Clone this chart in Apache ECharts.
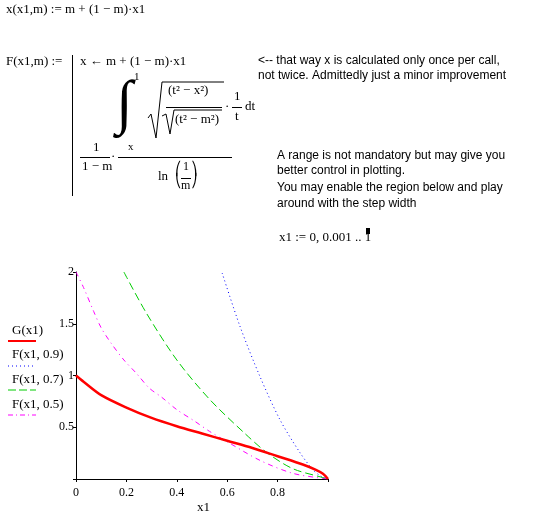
<!DOCTYPE html>
<html><head><meta charset="utf-8">
<script src="https://cdn.jsdelivr.net/npm/echarts@6/dist/echarts.min.js"></script>
<style>html,body{margin:0;background:#fff}#c{width:555px;height:523px}</style>
</head><body><div id="c"></div>
<script>
var box = echarts.init(document.getElementById('c'));

// values: [x1, value]
var gData = [[0,1],[0.03,0.94],[0.1,0.81],[0.2,0.69],[0.3,0.59],[0.4,0.51],[0.5,0.44],[0.6,0.37],[0.7,0.30],[0.8,0.22],[0.9,0.14],[0.95,0.09],[0.98,0.05],[1,0]];
var f09 = [[0.58,1.99],[0.65,1.48],[0.73,0.99],[0.81,0.57],[0.89,0.25],[0.94,0.09],[0.97,0.03],[1,0]];
var f07 = [[0.19,2],[0.28,1.6],[0.4,1.15],[0.53,0.77],[0.67,0.44],[0.76,0.25],[0.86,0.10],[0.97,0.02],[1,0]];
var f05 = [[0,2],[0.03,1.85],[0.07,1.62],[0.10,1.46],[0.14,1.31],[0.19,1.15],[0.24,1.02],[0.29,0.88],[0.34,0.79],[0.40,0.67],[0.47,0.56],[0.53,0.46],[0.6,0.36],[0.73,0.18],[0.86,0.055],[0.98,0.005],[1,0]];
var xTicks = [0, 0.2, 0.4, 0.6, 0.8];
var yTicks = [0.5, 1, 1.5, 2];

var serif = 'Liberation Serif', sans = 'Liberation Sans';
function t(x, y, s, f, size) {
    return {type: 'text', left: x, top: y, style: {text: s, font: (size || 13) + 'px "' + (f || serif) + '"', fill: '#000'}};
}
function ln(x1, y1, x2, y2, color, dash, w) {
    return {type: 'line', shape: {x1: x1, y1: y1, x2: x2, y2: y2}, style: {stroke: color || '#000', lineWidth: w || 1, lineDash: dash || null}};
}

var graphic = [
    t(6, 3, 'x(x1,m) := m + (1 − m)·x1'),
    t(6, 55, 'F(x1,m) :='),
    ln(72.5, 55, 72.5, 196),
    t(80, 55, 'x ← m + (1 − m)·x1'),
    t(93, 141, '1'), ln(80, 157.5, 110, 157.5), t(82, 160, '1 − m'), t(111, 150, '·'),
    ln(118, 157.5, 232, 157.5),
    {type: 'text', left: 116, top: 76, style: {text: '∫', font: '60px "' + serif + '"', fill: '#000'}},
    t(134, 72, '1', serif, 11), t(128, 142, 'x', serif, 11),
    // radical
    {type: 'polyline', shape: {points: [[148, 118], [151, 114], [156, 138], [162, 82], [224, 82]]}, style: {stroke: '#000', fill: null}},
    t(168, 84, '(t² − x²)'),
    {type: 'polyline', shape: {points: [[162, 116], [166, 114], [170, 134], [174, 110], [222, 110]]}, style: {stroke: '#000', fill: null}},
    ln(166, 107.5, 222, 107.5),
    t(175, 113, '(t² − m²)'),
    t(225, 100, '·'), t(234, 90, '1'), ln(232, 107.5, 242, 107.5), t(235, 110, 't'), t(245, 100, 'dt'),
    t(158, 170, 'ln'), t(175, 163, '⎛'), t(175, 175, '⎝'), t(183, 161, '1', serif, 12), ln(181, 178.5, 191, 178.5), t(181, 180, 'm', serif, 12),
    t(191, 163, '⎞'), t(191, 175, '⎠'),
    t(258, 55, '<-- that way x is calculated only once per call,', sans, 12),
    t(258, 70, 'not twice. Admittedly just a minor improvement', sans, 12),
    t(277, 150, 'A range is not mandatory but may give you', sans, 12),
    t(277, 165, 'better control in plotting.', sans, 12),
    t(277, 182, 'You may enable the region below and play', sans, 12),
    t(277, 198, 'around with the step width', sans, 12),
    t(279, 231, 'x1 := 0, 0.001 .. 1'),
    {type: 'rect', shape: {x: 366, y: 228, width: 4, height: 6}, style: {fill: '#000'}},
    // legend
    t(12, 324, 'G(x1)'), ln(8, 341, 36, 341, '#f00', null, 2),
    t(12, 348, 'F(x1, 0.9)'), ln(8, 366, 36, 366, '#00f', [1, 3]),
    t(12, 373, 'F(x1, 0.7)'), ln(8, 390, 36, 390, '#0c0', [8, 3]),
    t(12, 398, 'F(x1, 0.5)'), ln(8, 415, 36, 415, '#f0f', [5, 3, 1, 3]),
    t(197, 501, 'x1')
];

function mk(data, color, type, width) {
    return {type: 'line', data: data, showSymbol: false, smooth: 0.3, clip: true,
        lineStyle: {color: color, width: width || 1, type: type}};
}

option = {
    animation: false,
    grid: {left: 76, right: 227, top: 272, bottom: 44},
    xAxis: {
        type: 'value', min: 0, max: 1, interval: 0.2,
        axisLine: {lineStyle: {color: '#000'}}, axisTick: {inside: false, length: 3, lineStyle: {color: '#000'}},
        splitLine: {show: false},
        axisLabel: {color: '#000', fontFamily: serif, fontSize: 12, margin: 8,
            formatter: function (v) { return xTicks.indexOf(+v.toFixed(1)) >= 0 ? String(+v.toFixed(1)) : ''; }}
    },
    yAxis: {
        type: 'value', min: 0, max: 2, interval: 0.5,
        axisLine: {show: true, lineStyle: {color: '#000'}}, axisTick: {show: true, length: 3, lineStyle: {color: '#000'}},
        splitLine: {show: false},
        axisLabel: {color: '#000', fontFamily: serif, fontSize: 12, margin: 2,
            formatter: function (v) { return yTicks.indexOf(v) >= 0 ? String(v) : ''; }}
    },
    series: [
        mk(f05, '#f0f', [5, 4, 1, 4]),
        mk(f07, '#0c0', [8, 4]),
        mk(f09, '#00f', [1, 3]),
        mk(gData, '#f00', 'solid', 2.5)
    ],
    graphic: graphic
};
box.setOption(option);
</script></body></html>
